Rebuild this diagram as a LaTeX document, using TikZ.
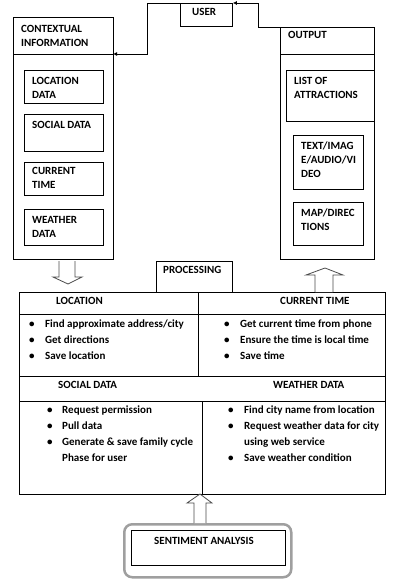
\documentclass[tikz,border=0pt]{standalone}
\usepackage{fontspec}
\setmainfont{Carlito}
\usetikzlibrary{arrows.meta,positioning}

\begin{document}
\begin{tikzpicture}[x=1pt, y=-1pt, >=Latex,
    box/.style={draw, line width=0.8pt, rectangle, inner sep=0pt, anchor=north west},
    txt/.style={font=\bfseries\fontsize{11}{14}\selectfont, inner sep=0pt, anchor=north west, align=left},
    items/.style={font=\bfseries\fontsize{11}{16}\selectfont, inner sep=0pt, anchor=north west, align=left},
    conn/.style={line width=0.8pt, -{Latex[length=4pt, width=4pt]}},
    blockarrow/.style={draw=black!70, line width=0.8pt, fill=white, line join=miter}]
    \useasboundingbox (0,0) rectangle (400,586);

    % User and the two side columns
    \node[box, minimum width=52pt, minimum height=23pt] (user) at (180,3) {};
    \node[txt] (usertxt) at (192,8) {USER};

    \node[box, minimum width=100pt, minimum height=242pt] (ctx) at (13,17) {};
    \draw[line width=0.8pt] (13,54) -- (113,54);
    \node[txt] (ctxtxt) at (21,25) {CONTEXTUAL\\INFORMATION};
    \node[box, minimum width=79pt, minimum height=33pt] (locdata) at (24,70) {};
    \node[txt] at (32,77) {LOCATION\\DATA};
    \node[box, minimum width=79pt, minimum height=37pt] (socdata) at (24,114) {};
    \node[txt] at (32,121) {SOCIAL DATA};
    \node[box, minimum width=79pt, minimum height=33pt] (curtime) at (24,162) {};
    \node[txt] at (32,167) {CURRENT\\TIME};
    \node[box, minimum width=79pt, minimum height=36pt] (weadata) at (24,209) {};
    \node[txt] at (32,216) {WEATHER\\DATA};

    \node[box, minimum width=94pt, minimum height=232pt] (out) at (280,27) {};
    \draw[line width=0.8pt] (280,54) -- (374,54);
    \node[txt] (outtxt) at (288,31) {OUTPUT};
    \node[box, minimum width=88pt, minimum height=51pt] (attr) at (286,70) {};
    \node[txt] at (294,77) {LIST OF\\ATTRACTIONS};
    \node[box, minimum width=70pt, minimum height=54pt] (media) at (293,135) {};
    \node[txt] at (301,142) {TEXT/IMAG\\E/AUDIO/VI\\DEO};
    \node[box, minimum width=70pt, minimum height=43pt] (map) at (293,202) {};
    \node[txt] at (301,209) {MAP/DIREC\\TIONS};

    % Connectors to and from the user
    \coordinate (ctxhd) at (113,54);
    \draw[conn] (user.north west) -- ++(-33,0) |- (ctxhd);
    \draw[conn] (out.north west) -- ++(-22,0) |- (user.north east);

    % Processing
    \node[box, minimum width=76pt, minimum height=31pt] (proc) at (156,261) {};
    \node[txt] at (163,266) {PROCESSING};
    \node[box, minimum width=366pt, minimum height=202pt] (main) at (19,292) {};
    \draw[line width=0.8pt] (19,314) -- (385,314);
    \draw[line width=0.8pt] (19,376) -- (385,376);
    \draw[line width=0.8pt] (19,401) -- (385,401);
    \draw[line width=0.8pt] (198,292) -- (198,376);
    \draw[line width=0.8pt] (202,401) -- (202,494);

    \node[txt] at (56,297) {LOCATION};
    \node[txt] at (280,297) {CURRENT TIME};
    \node[txt] at (58,381) {SOCIAL DATA};
    \node[txt] at (273,381) {WEATHER DATA};

    \node[items] (locitems) at (29,320) {\makebox[16pt][l]{\textbullet}Find approximate address/city\\
        \makebox[16pt][l]{\textbullet}Get directions\\
        \makebox[16pt][l]{\textbullet}Save location};
    \node[items] (timeitems) at (224,320) {\makebox[16pt][l]{\textbullet}Get current time from phone\\
        \makebox[16pt][l]{\textbullet}Ensure the time is local time\\
        \makebox[16pt][l]{\textbullet}Save time};
    \node[items] (socitems) at (47,406) {\makebox[15pt][l]{\textbullet}Request permission\\
        \makebox[15pt][l]{\textbullet}Pull data\\
        \makebox[15pt][l]{\textbullet}Generate \& save family cycle\\
        \makebox[15pt][l]{}Phase for user};
    \node[items] (weaitems) at (228,406) {\makebox[16pt][l]{\textbullet}Find city name from location\\
        \makebox[16pt][l]{\textbullet}Request weather data for city\\
        \makebox[16pt][l]{}using web service\\
        \makebox[16pt][l]{\textbullet}Save weather condition};

    % Sentiment analysis
    \node[box, draw=gray!75, line width=2.5pt, rounded corners=8pt, minimum width=167pt, minimum height=53pt] (sentout) at (123,523) {};
    \node[box, minimum width=154pt, minimum height=35pt] (sent) at (131,530) {};
    \node[txt] at (154,537) {SENTIMENT ANALYSIS};

    % Block arrows
    \draw[blockarrow] (59,261) -- (59,277) -- (53,277) -- (68,284) -- (82,277) -- (75,277) -- (75,261);
    \draw[blockarrow] (315,292) -- (315,275) -- (306,275) -- (325,268) -- (343,275) -- (333,275) -- (333,292);
    \draw[blockarrow] (194,523) -- (194,503) -- (187,503) -- (200,494) -- (212,503) -- (206,503) -- (206,523);
\end{tikzpicture}
\end{document}
